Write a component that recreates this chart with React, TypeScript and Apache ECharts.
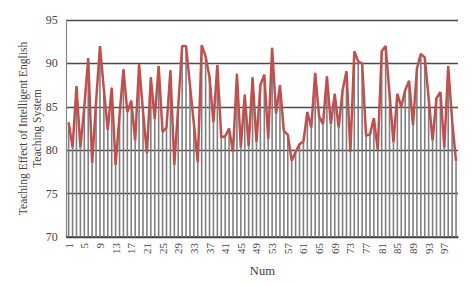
import React, { useEffect, useRef } from "react";
import * as echarts from "echarts";

const categories: string[] = Array.from({ length: 100 }, (_, i) => String(i + 1));

const teachingEffect: number[] = [
  83.2, 80.3, 87.4, 80.3, 85.0, 90.6, 78.5, 85.5, 92.0, 87.0,
  82.3, 87.2, 78.3, 84.0, 89.3, 84.4, 85.7, 81.1, 89.9, 84.5,
  79.6, 88.4, 83.6, 89.7, 82.1, 82.6, 89.2, 78.3, 85.0, 92.0,
  92.0, 87.5, 83.0, 78.6, 92.1, 90.8, 88.4, 83.2, 89.8, 81.5,
  81.6, 82.5, 79.8, 88.8, 80.3, 86.4, 80.5, 88.4, 80.9, 87.5,
  88.7, 81.3, 91.8, 84.2, 87.5, 82.2, 81.8, 78.8, 79.8, 80.7,
  81.0, 84.4, 82.6, 88.9, 83.9, 83.0, 88.5, 83.0, 86.5, 82.6,
  86.9, 89.1, 79.8, 91.4, 90.2, 90.0, 81.7, 81.8, 83.7, 80.0,
  91.4, 92.0, 86.5, 80.9, 86.5, 85.0, 86.9, 88.0, 82.9, 89.4,
  91.1, 90.7, 86.0, 81.1, 86.0, 86.7, 80.3, 89.7, 83.4, 78.7,
];

const yTicks = { min: 70, max: 95, interval: 5 };

export default function App() {
  const ref = useRef<HTMLDivElement>(null);
  useEffect(() => {
    document.body.style.margin = "0";
    if (!ref.current) return;
    const chart = echarts.init(ref.current, null, { renderer: "svg" });
    const font = "'Liberation Serif', 'Times New Roman', serif";
    chart.setOption({
      animation: false,
      backgroundColor: "#ffffff",
      textStyle: { fontFamily: font },
      grid: { left: 66.7, right: 16, top: 20, bottom: 48, containLabel: false },
      xAxis: {
        type: "category",
        data: categories,
        boundaryGap: true,
        name: "Num",
        nameLocation: "middle",
        nameGap: 27,
        nameMoveOverlap: false,
        nameTextStyle: { fontFamily: font, fontSize: 12.5, color: "#3a3a3a" },
        axisLine: { show: true, lineStyle: { color: "#3a3a3a", width: 1.5 } },
        axisTick: { show: false },
        axisLabel: {
          interval: 3,
          rotate: 90,
          fontFamily: font,
          fontSize: 11,
          color: "#444",
          margin: 6,
        },
        splitLine: { show: false },
      },
      yAxis: {
        type: "value",
        min: yTicks.min,
        max: yTicks.max,
        interval: yTicks.interval,
        name: "Teaching Effect of Intelligent English\nTeaching System",
        nameLocation: "middle",
        nameRotate: 90,
        nameGap: 23,
        nameMoveOverlap: false,
        nameTextStyle: {
          fontFamily: font,
          fontSize: 11.5,
          color: "#444",
          lineHeight: 14,
          align: "center",
        },
        axisLine: { show: true, lineStyle: { color: "#888", width: 1.2 } },
        axisTick: { show: false },
        axisLabel: { fontFamily: font, fontSize: 12, color: "#444", margin: 9 },
        splitLine: { show: true, lineStyle: { color: "#4a4a4a", width: 1.3 } },
      },
      series: [
        {
          type: "bar",
          data: teachingEffect,
          barWidth: 1.6,
          itemStyle: { color: "#7f7f7f" },
          silent: true,
          z: 1,
        },
        {
          type: "line",
          data: teachingEffect,
          symbol: "none",
          lineStyle: { color: "#c0504d", width: 2.5 },
          z: 3,
        },
      ],
    });
    return () => chart.dispose();
  }, []);
  return <div ref={ref} style={{ width: 474, height: 285 }} />;
}
